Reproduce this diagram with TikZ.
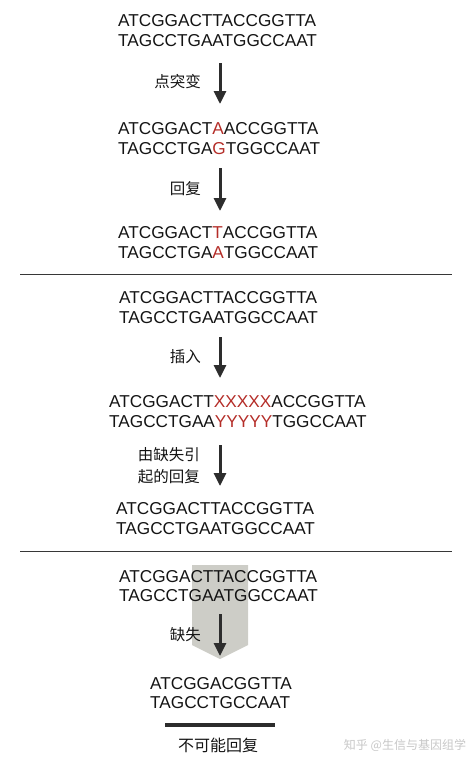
\documentclass[tikz,border=0pt]{standalone}
\usepackage{fontspec}
\usepackage{xcolor}
\usetikzlibrary{arrows.meta, positioning}
\setmainfont{Liberation Sans}
\newfontfamily\cjk{Noto Sans CJK SC}
\definecolor{mutred}{RGB}{180,45,40}
\definecolor{ink}{RGB}{20,20,20}
\definecolor{arrowgray}{RGB}{45,45,45}
\definecolor{delgray}{RGB}{205,205,199}
\newcommand{\mut}[1]{\textcolor{mutred}{#1}}

\begin{document}
\begin{tikzpicture}[x=1pt,y=-1pt,>={Triangle[width=12pt,length=13pt]}]
       \tikzstyle{seq}=[anchor=base west,inner sep=0pt,text=ink,font=\fontsize{17.2}{20}\selectfont]
       \tikzstyle{lbl}=[anchor=east,inner sep=0pt,text=ink,align=right,font=\cjk\fontsize{15.5}{22}\selectfont]
       \tikzstyle{mutarrow}=[->,line width=3pt,draw=arrowgray]
       \tikzstyle{rule}=[line width=1pt,draw=ink!85]

       \useasboundingbox (0,0) rectangle (474,766);

       % deleted region
       \fill[delgray] (192,565) -- (248,565) -- (248,645) -- (220,659) -- (192,645) -- cycle;

       \node[seq] (A1) at (118,26)  {ATCGGACTTACCGGTTA};
       \node[seq] (A2) at (118,46)  {TAGCCTGAATGGCCAAT};

       \node[seq] (B1) at (118,134) {ATCGGACT\mut{A}ACCGGTTA};
       \node[seq] (B2) at (118,154) {TAGCCTGA\mut{G}TGGCCAAT};

       \node[seq] (C1) at (118,238) {ATCGGACT\mut{T}ACCGGTTA};
       \node[seq] (C2) at (118,258) {TAGCCTGA\mut{A}TGGCCAAT};

       \node[seq] (D1) at (119,303) {ATCGGACTTACCGGTTA};
       \node[seq] (D2) at (119,323) {TAGCCTGAATGGCCAAT};

       \node[seq] (E1) at (109,407) {ATCGGACTT\mut{XXXXX}ACCGGTTA};
       \node[seq] (E2) at (109,427) {TAGCCTGAA\mut{YYYYY}TGGCCAAT};

       \node[seq] (F1) at (116,514) {ATCGGACTTACCGGTTA};
       \node[seq] (F2) at (116,534) {TAGCCTGAATGGCCAAT};

       \node[seq] (G1) at (119,582) {ATCGGACTTACCGGTTA};
       \node[seq] (G2) at (119,601) {TAGCCTGAATGGCCAAT};

       \node[seq] (H1) at (150,689) {ATCGGACGGTTA};
       \node[seq] (H2) at (150,708) {TAGCCTGCCAAT};

       % arrows
       \coordinate (a1) at (220,63);   \coordinate (b1) at (220,104);
       \coordinate (a2) at (220,168);  \coordinate (b2) at (220,211);
       \coordinate (a3) at (220,337);  \coordinate (b3) at (220,378);
       \coordinate (a4) at (220,445);  \coordinate (b4) at (220,486);
       \coordinate (a5) at (220,614);  \coordinate (b5) at (220,656);

       \path (a1) edge [mutarrow] (b1)
             (a2) edge [mutarrow] (b2)
             (a3) edge [mutarrow] (b3)
             (a4) edge [mutarrow] (b4)
             (a5) edge [mutarrow] (b5);

       \node[lbl] (L1) at (201,82)  {点突变};
       \node[lbl] (L2) at (201,189) {回复};
       \node[lbl] (L3) at (201,357) {插入};
       \node[lbl] (L4) at (200,466) {由缺失引\\起的回复};
       \node[lbl] (L5) at (201,635) {缺失};

       % section rules
       \coordinate (r1w) at (20,274);  \coordinate (r1e) at (452,274);
       \coordinate (r2w) at (20,551);  \coordinate (r2e) at (452,551);
       \draw[rule] (r1w) -- (r1e);
       \draw[rule] (r2w) -- (r2e);

       \coordinate (bw) at (165,725);  \coordinate (be) at (275,725);
       \draw[line width=3.5pt,draw=ink!90] (bw) -- (be);
       \node[text=ink,inner sep=0pt,font=\cjk\fontsize{16}{18}\selectfont] (N) at (218,745) {不可能回复};

       \node[text=black!22,inner sep=0pt,font=\cjk\fontsize{12}{14}\selectfont] (W) at (405,745) {知乎 @生信与基因组学};
\end{tikzpicture}
\end{document}
